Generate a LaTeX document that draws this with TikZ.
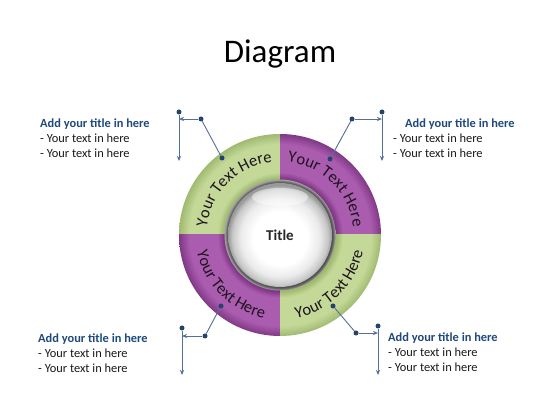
\documentclass[tikz,border=0pt]{standalone}
\usepackage{fontspec}
\setmainfont{Carlito}
\usetikzlibrary{arrows.meta,decorations.text}
\definecolor{ringgreen}{RGB}{196,216,152}
\definecolor{ringgreendk}{RGB}{160,186,112}
\definecolor{ringpurple}{RGB}{170,92,174}
\definecolor{ringpurpledk}{RGB}{128,56,134}
\definecolor{titleblue}{RGB}{31,73,125}
\definecolor{linkblue}{RGB}{85,110,155}
\definecolor{dotblue}{RGB}{38,66,110}
\definecolor{ringtext}{RGB}{30,20,30}
\pgfdeclareradialshading{greenring}{\pgfpoint{0bp}{0bp}}{color(0bp)=(ringgreendk); color(14bp)=(ringgreendk); color(15.5bp)=(ringgreen); color(22.5bp)=(ringgreen); color(25bp)=(ringgreendk); color(50bp)=(ringgreendk)}
\pgfdeclareradialshading{purplering}{\pgfpoint{0bp}{0bp}}{color(0bp)=(ringpurpledk); color(14bp)=(ringpurpledk); color(15.5bp)=(ringpurple); color(22.5bp)=(ringpurple); color(25bp)=(ringpurpledk); color(50bp)=(ringpurpledk)}
\pgfdeclareradialshading{innershadow}{\pgfpoint{0bp}{0bp}}{color(0bp)=(black!75); color(23bp)=(black!75); color(24bp)=(black!60); color(25bp)=(black!35); color(50bp)=(black!35)}
\pgfdeclareradialshading{sphereshade}{\pgfpoint{0bp}{-2bp}}{color(0bp)=(white); color(13bp)=(white); color(19bp)=(black!8); color(23bp)=(black!22); color(25bp)=(black!40); color(50bp)=(black!40)}
\newcommand\ringfont{\fontsize{16.5}{19}\selectfont}
\tikzset{
  dot/.style={circle,fill=dotblue,inner sep=0pt,minimum size=5pt},
  link/.style={draw=linkblue,line width=0.9pt},
  linkarrow/.style={link,-{Stealth[length=5pt,width=4.2pt]}},
  boxtitle/.style={anchor=base west,inner sep=0pt,text=titleblue,font=\fontsize{12.4}{15}\selectfont\bfseries},
  boxline/.style={anchor=base west,inner sep=0pt,text=black!90,font=\fontsize{12.4}{15}\selectfont},
  curvetext/.style={decorate,decoration={text along path,text align=center,text color=ringtext,text={|\ringfont|Your Text Here}}}
}
\begin{document}
\begin{tikzpicture}[x=1pt,y=1pt]
\useasboundingbox (0,0) rectangle (560,420);
\fill[white] (0,0) rectangle (560,420);
\node[anchor=base,inner sep=0pt,font=\fontsize{33}{38}\selectfont] (title) at (280,357) {Diagram};
% ring
\begin{scope}[shift={(280,185)}]
  \begin{scope}\clip (-110,0) rectangle (0,110); \shade[shading=greenring] (0,0) circle (101); \end{scope}
  \begin{scope}\clip (0,0) rectangle (110,110); \shade[shading=purplering] (0,0) circle (101); \end{scope}
  \begin{scope}\clip (-110,-110) rectangle (0,0); \shade[shading=purplering] (0,0) circle (101); \end{scope}
  \begin{scope}\clip (0,-110) rectangle (110,0); \shade[shading=greenring] (0,0) circle (101); \end{scope}
  \shade[shading=innershadow] (0,0) circle (55.5);
  \shade[shading=sphereshade] (0,0) circle (52);
  \fill[white,opacity=0.45] (0,38) ellipse (28 and 9);
  \node[inner sep=0pt,font=\fontsize{15}{18}\selectfont\bfseries,text=black!85] (center) at (0,0) {Title};
  \path[curvetext] (190:73.5) arc[start angle=190,end angle=80,radius=73.5];
  \path[curvetext] (100:73.5) arc[start angle=100,end angle=-10,radius=73.5];
  \path[curvetext] (170:84.5) arc[start angle=170,end angle=280,radius=84.5];
  \path[curvetext] (260:84.5) arc[start angle=260,end angle=370,radius=84.5];
\end{scope}
% connectors top-left
\node[dot] (tla) at (222,262) {};
\node[dot] (tlb) at (201,301) {};
\node[dot] (tlv) at (179,308) {};
\coordinate (tlh) at (179,301);
\coordinate (tle) at (179,259);
\draw[link] (tla) -- (tlb);
\draw[linkarrow] (tlb) -- (tlh);
\draw[linkarrow] (tlv) -- (tle);
% top-right
\node[dot] (tra) at (330,261) {};
\node[dot] (trb) at (352,301) {};
\node[dot] (trv) at (382,308) {};
\coordinate (trh) at (382,301);
\coordinate (tre) at (382,259);
\draw[link] (tra) -- (trb);
\draw[linkarrow] (trb) -- (trh);
\draw[linkarrow] (trv) -- (tre);
% bottom-left
\node[dot] (bla) at (221,114) {};
\node[dot] (blb) at (205,84) {};
\node[dot] (blv) at (182,92) {};
\coordinate (blh) at (182,84);
\coordinate (ble) at (182,45);
\draw[link] (bla) -- (blb);
\draw[linkarrow] (blb) -- (blh);
\draw[linkarrow] (blv) -- (ble);
% bottom-right
\node[dot] (bra) at (333,114) {};
\node[dot] (brb) at (356,87) {};
\node[dot] (brv) at (378,94) {};
\coordinate (brh) at (378,87);
\coordinate (bre) at (378,45);
\draw[link] (bra) -- (brb);
\draw[linkarrow] (brb) -- (brh);
\draw[linkarrow] (brv) -- (bre);
% text blocks
\node[boxtitle] (tlt) at (40,292) {Add your title in here};
\node[boxline] (tl1) at (40,277) {- Your text in here};
\node[boxline] (tl2) at (40,262) {- Your text in here};
\node[boxtitle] (trt) at (405,292) {Add your title in here};
\node[boxline] (tr1) at (393,277) {- Your text in here};
\node[boxline] (tr2) at (393,262) {- Your text in here};
\node[boxtitle] (blt) at (38,77) {Add your title in here};
\node[boxline] (bl1) at (38,62) {- Your text in here};
\node[boxline] (bl2) at (38,47.5) {- Your text in here};
\node[boxtitle] (brt) at (388,78) {Add your title in here};
\node[boxline] (br1) at (388,63) {- Your text in here};
\node[boxline] (br2) at (388,48.5) {- Your text in here};
\end{tikzpicture}
\end{document}
